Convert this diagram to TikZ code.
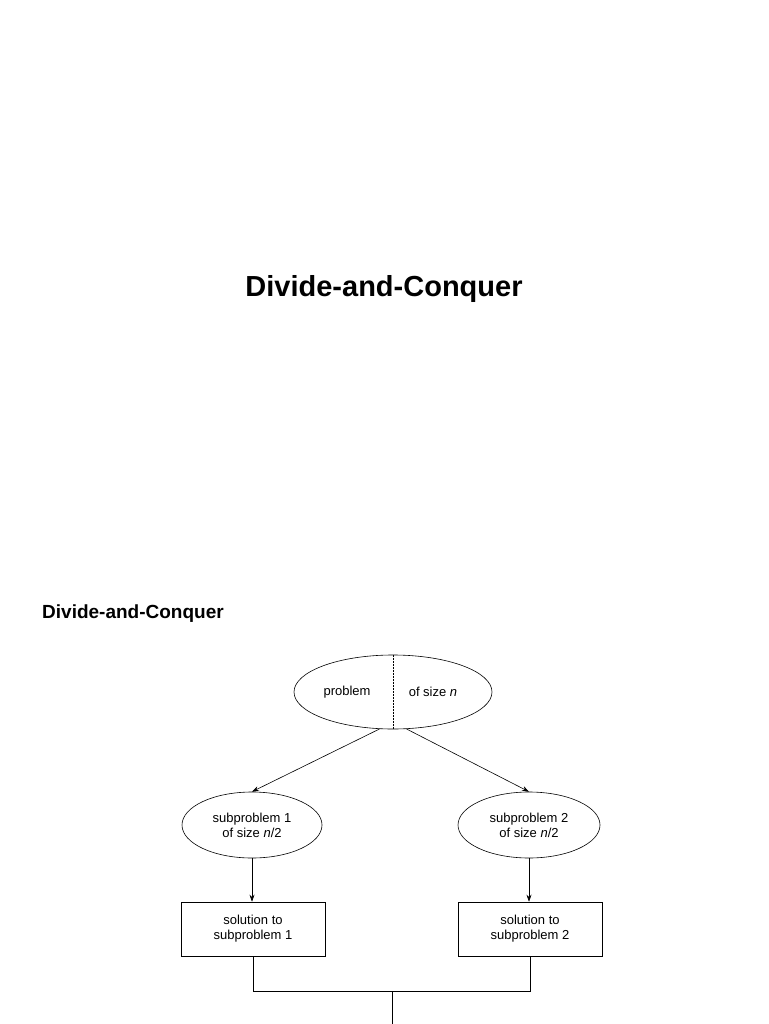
\documentclass[tikz,border=0pt]{standalone}
\usepackage{fontspec}
\setmainfont{Liberation Sans}
\usetikzlibrary{shapes.geometric,arrows.meta}
\begin{document}
\begin{tikzpicture}[x=1pt,y=-1pt,
  ell/.style={draw,ellipse,line width=0.6pt,inner sep=0pt},
  box/.style={draw,line width=0.6pt,minimum width=144pt,minimum height=54pt,align=center,font=\fontsize{13}{15}\selectfont},
  lbl/.style={font=\fontsize{13}{15}\selectfont,align=center},
  arr/.style={-{Stealth[length=7pt,width=5pt]},line width=0.6pt},
  ln/.style={line width=0.6pt}]
\useasboundingbox (0,0) rectangle (768,1024);
\node[font=\bfseries\fontsize{29}{32}\selectfont] (title) at (384,289) {Divide-and-Conquer};
\node[font=\bfseries\fontsize{19}{22}\selectfont,anchor=west,inner sep=0pt] (sub) at (42,614) {Divide-and-Conquer};
\node[ell,minimum width=198pt,minimum height=74pt] (top) at (393,692) {};
\draw[dashed,line width=0.5pt,dash pattern=on 2pt off 1pt] (top.north) -- (top.south);
\node[lbl] (p1) at (347,692) {problem};
\node[lbl] (p2) at (433,692) {of size \textit{n}};
\node[ell,minimum width=140pt,minimum height=66pt,lbl] (l) at (252,825) {subproblem 1\\of size \textit{n}/2};
\node[ell,minimum width=142pt,minimum height=66pt,lbl] (r) at (529,825) {subproblem 2\\of size \textit{n}/2};
\node[box] (lb) at (253,929) {solution to\\subproblem 1};
\node[box] (rb) at (530,929) {solution to\\subproblem 2};
\coordinate (j) at (392,991);
\coordinate (e) at (392,1024);
\draw[arr] (top.250) -- (l.north);
\draw[arr] (top.290) -- (r.north);
\draw[arr] (l.south) -- (lb.north -| l.south);
\draw[arr] (r.south) -- (rb.north -| r.south);
\draw[ln] (lb.south) |- (j) -| (rb.south);
\draw[ln] (j) -- (e);
\end{tikzpicture}
\end{document}
